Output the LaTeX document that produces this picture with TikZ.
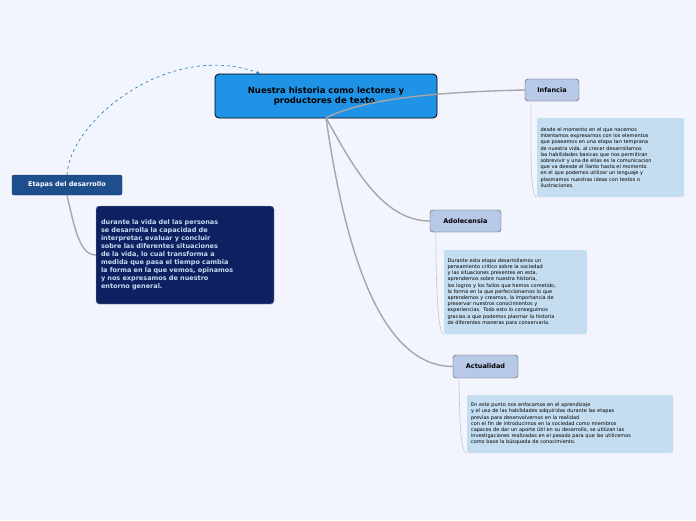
\documentclass[tikz,border=0pt]{standalone}
\usepackage{fontspec}
\setmainfont{DejaVu Sans}
\begin{document}
\begin{tikzpicture}[x=1pt,y=-1pt,
 topic/.style={draw=black!70,rounded corners=3pt,fill=topicfill,inner sep=0pt,font=\fontsize{6.5}{8}\selectfont\bfseries},
 note/.style={rounded corners=2pt,fill=notefill,inner sep=0pt,font=\fontsize{5}{6.2}\selectfont,align=left},
 branch/.style={draw=gray!70,line width=1.4pt},
 sub/.style={draw=gray!45,line width=0.6pt}]
\definecolor{bg}{HTML}{F2F5FE}
\definecolor{topicfill}{HTML}{B8C9E8}
\definecolor{notefill}{HTML}{C5DDF0}
\definecolor{mainfill}{HTML}{1F93E6}
\definecolor{etfill}{HTML}{1F4E8C}
\definecolor{navy}{HTML}{0D2060}
\fill[bg] (0,0) rectangle (696,520);
\useasboundingbox (0,0) rectangle (696,520);
\node[draw=black,line width=0.8pt,rounded corners=4pt,fill=mainfill,minimum width=222pt,minimum height=44pt,align=center,font=\fontsize{8.5}{10}\selectfont\bfseries] (main) at (326,96) {Nuestra historia como lectores y\\productores de texto.};
\node[topic,minimum width=54pt,minimum height=22pt] (inf) at (552,90) {Infancia};
\node[topic,minimum width=71pt,minimum height=22pt] (ado) at (465.5,221) {Adolecensia};
\node[topic,minimum width=65pt,minimum height=23pt] (act) at (485.5,366.5) {Actualidad};
\node[note,minimum width=147pt,minimum height=79pt,text width=140pt] (tinf) at (610.5,157.5) {desde el momento en el que nacemos\\intentamos expresarnos con los elementos\\que poseemos en una etapa tan temprana\\ de nuestra vida, al crecer desarrollamos\\las habilidades basicas que nos permitiran\\sobrevivir y una de ellas es la comunicacion\\que va deesde el llanto hasta el momento\\en el que podemos utilizar un lenguaje y\\plasmamos nuestras ideas con textos o\\ilustraciones.};
\node[note,minimum width=143pt,minimum height=84pt,text width=136pt] (tado) at (515.5,292) {Durante esta etapa desarrollamos un\\pensamiento critico sobre la sociedad\\y las situaciones presentes en esta,\\ aprendemos sobre nuestra historia,\\los logros y los fallos que hemos cometido,\\la forma en la que perfeccionamos lo que\\aprendemos y creamos, la importancia de\\preservar nuestros conocimientos y\\experiencias. Todo esto lo conseguimos\\gracias a que podemos plasmar la historia\\de diferentes maneras para conservarla.};
\node[note,minimum width=206pt,minimum height=58pt,text width=198pt] (tact) at (570,424) {En este punto nos enfocamos en el aprendizaje\\y el uso de las habilidades adquiridas durante las etapas\\previas para desenvolvernos en la realidad\\con el fin de introducirnos en la sociedad como miembros\\capaces de dar un aporte útil en su desarrollo, se utilizan las\\investigaciones realizadas en el pasado para que las utilicemos\\como base la búsqueda de conocimiento.};
\node[draw=etfill!70!black,rounded corners=2pt,fill=etfill,text=white,minimum width=110pt,minimum height=20pt,font=\fontsize{6.5}{8}\selectfont\bfseries] (et) at (67,185) {Etapas del desarrollo};
\node[draw=gray!60,rounded corners=3pt,fill=navy,text=notefill,minimum width=178pt,minimum height=98pt,inner sep=0pt,text width=168pt,align=left,font=\fontsize{6.5}{8}\selectfont\bfseries] (dark) at (185,255) {durante la vida del las personas\\se desarrolla la capacidad de\\interpretar, evaluar y concluir\\sobre las diferentes situaciones\\ de la vida, lo cual transforma a\\medida que pasa el tiempo cambia\\la forma en la que vemos, opinamos\\ y nos expresamos de nuestro\\entorno general.};
\coordinate (mb) at (326,118);
\draw[branch] (mb) .. controls (360,100) and (430,92) .. (inf.west);
\draw[branch] (mb) .. controls (350,160) and (380,221) .. (ado.west);
\draw[branch] (mb) .. controls (345,250) and (380,366) .. (act.west);
\draw[sub] (inf.south west)++(6,0) coordinate (a1) (a1) .. controls (531,150) and (530,197) .. (tinf.south west);
\draw[sub] (ado.south west)++(6,0) coordinate (a2) (a2) .. controls (436,290) and (438,334) .. (tado.south west);
\draw[sub] (act.south west)++(6,0) coordinate (a3) (a3) .. controls (460,420) and (460,453) .. (tact.south west);
\draw[branch] (et.south) .. controls (75,230) and (80,255) .. (dark.west);
\draw[dashed,draw=mainfill!80!black,line width=0.6pt,-stealth] (et.north) .. controls (70,120) and (170,40) .. (main.north west -| 260,74);
\end{tikzpicture}
\end{document}
